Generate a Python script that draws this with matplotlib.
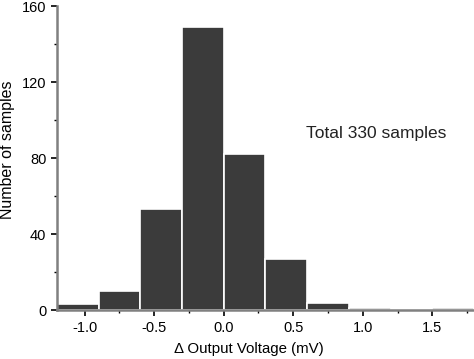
import matplotlib
matplotlib.use("Agg")
import matplotlib.pyplot as plt
import numpy as np
from matplotlib.ticker import MultipleLocator

plt.rcParams['font.family'] = ['Liberation Sans', 'DejaVu Sans']

# histogram bins (mV) and counts
bin_edges = [-1.2, -0.9, -0.6, -0.3, 0.0, 0.3, 0.6, 0.9, 1.2, 1.5, 1.8]
counts = [3, 10, 53, 149, 82, 27, 4, 1, 0, 1]

fig = plt.figure(figsize=(4.74, 3.59), dpi=100)
ax = fig.add_axes([0.12, 0.136, 0.88, 0.847])

lefts = np.array(bin_edges[:-1])
widths = np.diff(bin_edges)
ax.bar(lefts, counts, width=widths, align='edge', color='#3b3b3b',
       edgecolor='white', linewidth=1.2)

ax.set_xlim(-1.2, 1.8)
ax.set_ylim(0, 160)
ax.xaxis.set_minor_locator(MultipleLocator(0.25))
ax.yaxis.set_major_locator(MultipleLocator(40))
ax.yaxis.set_minor_locator(MultipleLocator(20))
ax.set_xticks([-1.0, -0.5, 0.0, 0.5, 1.0, 1.5])
ax.set_xticklabels(['-1.0', '-0.5', '0.0', '0.5', '1.0', '1.5'])

for s in ['top', 'right']:
    ax.spines[s].set_visible(False)
for s in ['left', 'bottom']:
    ax.spines[s].set_color('#808080')
    ax.spines[s].set_linewidth(1.8)

ax.tick_params(which='major', direction='out', length=4, width=1.2, labelsize=10.5)
ax.tick_params(which='minor', direction='out', length=2.5, width=1)

ax.set_xlabel('\u0394 Output Voltage (mV)', fontsize=10.8)
ax.xaxis.set_label_coords(0.46, -0.105)
ax.set_ylabel('Number of samples', fontsize=11.5)
ax.yaxis.set_label_coords(-0.1, 0.526)

ax.text(1.1, 93, 'Total 330 samples', fontsize=12.5, ha='center', va='center',
        color='#222222')

fig.savefig('out.png', dpi=100)
